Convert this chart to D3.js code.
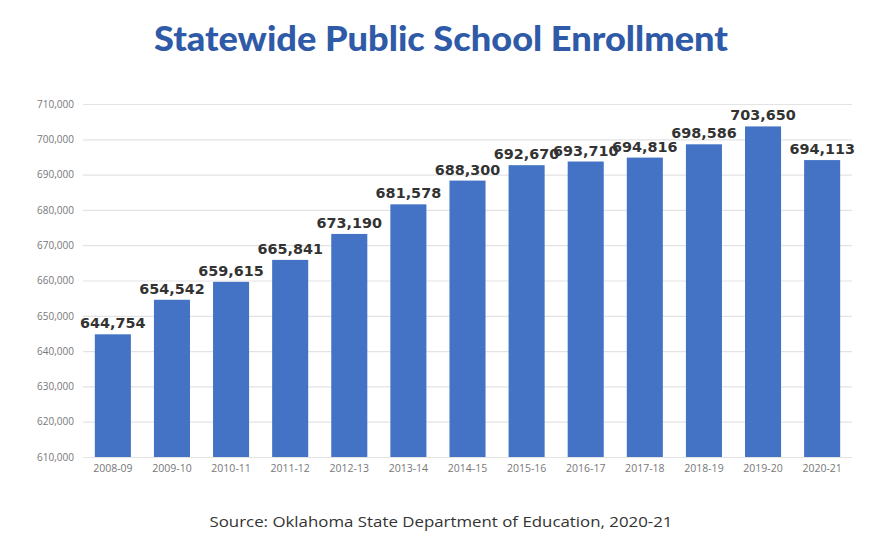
<!DOCTYPE html>
<html>
<head>
<meta charset="utf-8">
<script src="https://cdn.jsdelivr.net/npm/d3@7"></script>
<style>
  body { margin: 0; background: #fff; }
</style>
</head>
<body>
<div class="chart"></div>
<script>
var width = 873,
    height = 552;

var years = ['2008-09', '2009-10', '2010-11', '2011-12', '2012-13', '2013-14', '2014-15',
             '2015-16', '2016-17', '2017-18', '2018-19', '2019-20', '2020-21'];
var enrollment = [644754, 654542, 659615, 665841, 673190, 681578, 688300,
                  692670, 693710, 694816, 698586, 703650, 694113];
var yTicks = [610000, 620000, 630000, 640000, 650000, 660000, 670000, 680000, 690000, 700000, 710000];

var data = years.map(function (d, i) {
    return { year: d, value: enrollment[i] };
});

var margin = { top: 104, right: 21, bottom: 95, left: 83 };

var svg = d3.select(".chart").append("svg")
    .attr("width", width)
    .attr("height", height);

var x = d3.scaleBand()
    .domain(years)
    .range([margin.left, width - margin.right])
    .paddingInner(0.39)
    .paddingOuter(0.2);

var y = d3.scaleLinear()
    .domain([610000, 710000])
    .range([height - margin.bottom, margin.top]);

var fmt = d3.format(",");

// gridlines
svg.append("g")
    .attr("transform", "translate(" + margin.left + ",0)")
    .call(d3.axisLeft(y).tickValues(yTicks).tickSize(-(width - margin.left - margin.right)).tickFormat(""))
    .call(function (g) { g.select(".domain").remove(); })
    .selectAll("line")
    .attr("stroke", "#e3e3e3")
    .attr("stroke-width", 1.2);

// y tick labels
svg.append("g")
    .attr("transform", "translate(" + margin.left + ",0)")
    .call(d3.axisLeft(y).tickValues(yTicks).tickSize(0).tickPadding(9).tickFormat(fmt))
    .call(function (g) { g.select(".domain").remove(); })
    .selectAll("text")
    .attr("fill", "#777")
    .style("font-family", "'Open Sans', sans-serif")
    .style("font-size", "10px");

// bars
svg.selectAll(".bar")
    .data(data)
    .enter()
    .append("rect")
    .attr("class", "bar")
    .attr("x", function (d) { return x(d.year); })
    .attr("width", x.bandwidth())
    .attr("y", function (d) { return y(d.value); })
    .attr("height", function (d) { return y(610000) - y(d.value); })
    .attr("fill", "#4472c4");

// value labels
svg.selectAll(".val")
    .data(data)
    .enter()
    .append("text")
    .attr("class", "val")
    .attr("x", function (d) { return x(d.year) + x.bandwidth() / 2; })
    .attr("y", function (d) { return y(d.value) - 6; })
    .style("text-anchor", "middle")
    .style("font-family", "'DejaVu Sans', sans-serif")
    .style("font-weight", "bold")
    .style("font-size", "14.4px")
    .attr("fill", "#333")
    .text(function (d) { return fmt(d.value); });

// x axis labels
svg.append("g")
    .attr("transform", "translate(0," + (height - margin.bottom) + ")")
    .call(d3.axisBottom(x).tickSize(0).tickPadding(8))
    .call(function (g) { g.select(".domain").remove(); })
    .selectAll("text")
    .attr("fill", "#777")
    .style("font-family", "'Open Sans', sans-serif")
    .style("font-size", "10.5px");

// title
svg.append("text")
    .attr("x", 441)
    .attr("y", 51)
    .style("text-anchor", "middle")
    .style("font-family", "Lato, sans-serif")
    .style("font-weight", "900")
    .style("font-size", "34px")
    .attr("textLength", 574)
    .attr("lengthAdjust", "spacingAndGlyphs")
    .attr("fill", "#2e5aa8")
    .text("Statewide Public School Enrollment");

// source
svg.append("text")
    .attr("x", 441)
    .attr("y", 527)
    .style("text-anchor", "middle")
    .style("font-family", "'Open Sans', sans-serif")
    .style("font-size", "15px")
    .attr("textLength", 463)
    .attr("lengthAdjust", "spacingAndGlyphs")
    .attr("fill", "#333")
    .text("Source: Oklahoma State Department of Education, 2020-21");
</script>
</body>
</html>
